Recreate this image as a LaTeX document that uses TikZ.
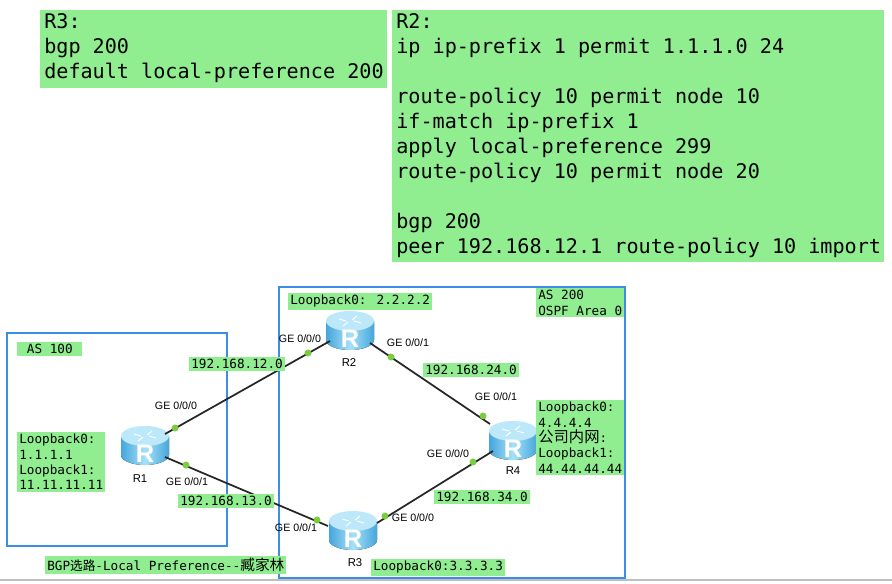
\documentclass[tikz,border=0pt]{standalone}
\usepackage{fontspec}
\setmainfont{Liberation Sans}
\newfontfamily\mono{DejaVu Sans Mono}
\newfontfamily\cjk{Noto Sans CJK SC}
\begin{document}
\begin{tikzpicture}[x=0.75pt,y=-0.75pt,
  gbox/.style={fill=lgreen, inner sep=1.5pt, anchor=north west, align=left, font=\mono\fontsize{9.5}{11.5}\selectfont},
  big/.style={inner sep=3pt, anchor=north west, align=left, font=\mono\fontsize{15.1}{18.8}\selectfont},
  ge/.style={font=\fontsize{8}{9}\selectfont, inner sep=0pt},
  rl/.style={font=\fontsize{8.5}{10}\selectfont, inner sep=0pt},
  dot/.style={circle, fill=dotg, inner sep=0pt, minimum size=5pt},
  link/.style={line width=1.3pt, black!85},
  asb/.style={draw=asblue, line width=0.8pt},
  rt/.style={minimum width=36pt, minimum height=30pt, inner sep=0pt},
  router/.pic={
    \fill[left color=rbot, right color=rbot, middle color=rtop] (-24,-9) -- (-24,10) arc[start angle=180,end angle=0,x radius=24,y radius=10] -- (24,-9) -- cycle;
    \fill[rtop!75!white] (0,-9) ellipse[x radius=24,y radius=10];
    \draw[white, line width=0.7pt] (-11,-11) -- (-4,-9) (11,-7) -- (4,-9) (-7,-4)--(-2,-8) (7,-14)--(2,-10);
    \node[text=white, font=\bfseries\fontsize{19}{19}\selectfont, inner sep=0] at (0,9) {R};
  }]
\definecolor{lgreen}{HTML}{90EE90}
\definecolor{dotg}{HTML}{7CCD3C}
\definecolor{asblue}{HTML}{3A8EE6}
\definecolor{rtop}{HTML}{A6E0F7}
\definecolor{rbot}{HTML}{45A6DC}
\useasboundingbox (0,0) rectangle (892,583);
\fill[white] (0,0) rectangle (892,583);
\draw[black!25, line width=1pt] (0,580) -- (892,580);

% top code boxes
\fill[lgreen] (40,10) rectangle (387,88);
\node[big] (c3) at (40,9) {R3:\\bgp 200\\default local-preference 200};
\fill[lgreen] (392,10) rectangle (884,262);
\node[big] (c2) at (392,9) {R2:\\ip ip-prefix 1 permit 1.1.1.0 24\\[18.8pt]route-policy 10 permit node 10\\if-match ip-prefix 1\\apply local-preference 299\\route-policy 10 permit node 20\\[18.8pt]bgp 200\\peer 192.168.12.1 route-policy 10 import};

% AS boxes
\draw[asb] (7,333) rectangle (227,546);
\draw[asb] (279,287) rectangle (625,578);

% routers
\node[rt] (r1) at (145,445) {}; \pic at (145,445) {router};
\node[rt] (r2) at (350,330) {}; \pic at (350,330) {router};
\node[rt] (r3) at (353,530) {}; \pic at (353,530) {router};
\node[rt] (r4) at (513,440) {}; \pic at (513,440) {router};
\node[rl] (l1) at (140,479) {R1};
\node[rl] (l2) at (349,363) {R2};
\node[rl] (l3) at (355,563) {R3};
\node[rl] (l4) at (513,471) {R4};

% interface dots
\node[dot] (d12) at (175,428) {};
\node[dot] (d21) at (308,353) {};
\node[dot] (d13) at (186,465) {};
\node[dot] (d31) at (317,520) {};
\node[dot] (d24) at (391,357) {};
\node[dot] (d42) at (483,416) {};
\node[dot] (d34) at (385,516) {};
\node[dot] (d43) at (473,462) {};
\coordinate (a1) at (165,434); \coordinate (a2) at (330,341);
\coordinate (b1) at (165,457); \coordinate (b3) at (328,526);
\coordinate (c2) at (370,343); \coordinate (c4) at (490,424);
\coordinate (e3) at (377,523); \coordinate (e4) at (493,451);
\draw[link] (a1) -- (a2);
\draw[link] (b1) -- (b3);
\draw[link] (c2) -- (c4);
\draw[link] (e3) -- (e4);
\foreach \n in {d12,d21,d13,d31,d24,d42,d34,d43} \node[dot] at (\n) {};

% GE labels
\node[ge] (g1) at (176,406) {GE 0/0/0};
\node[ge] (g2) at (187,482) {GE 0/0/1};
\node[ge] (g3) at (300,339) {GE 0/0/0};
\node[ge] (g4) at (408,343) {GE 0/0/1};
\node[ge] (g5) at (496,397) {GE 0/0/1};
\node[ge] (g6) at (448,454) {GE 0/0/0};
\node[ge] (g7) at (296,528) {GE 0/0/1};
\node[ge] (g8) at (413,518) {GE 0/0/0};

% green labels
\node[gbox] (as1) at (17,342) {\ AS 100\ };
\node[gbox] (lb1) at (17,432) {Loopback0:\\1.1.1.1\\Loopback1:\\11.11.11.11};
\node[gbox] (lb2) at (288,293) {Loopback0: 2.2.2.2};
\node[gbox] (as2) at (536,288) {AS 200\\OSPF Area 0};
\node[gbox] (lb4) at (536,400) {Loopback0:\\4.4.4.4\\{\cjk\fontsize{11.5}{11.5}\selectfont 公司内网}:\\Loopback1:\\44.44.44.44};
\node[gbox] (n12) at (189,357) {192.168.12.0};
\node[gbox] (n24) at (423,363) {192.168.24.0};
\node[gbox] (n13) at (178,494) {192.168.13.0};
\node[gbox] (n34) at (434,490) {192.168.34.0};
\node[gbox] (lb3) at (371,559) {Loopback0:3.3.3.3};
\node[gbox] (tt) at (45,556) {BGP{\cjk 选路}-Local Preference--{\cjk\fontsize{11}{11}\selectfont 臧家林}};
\end{tikzpicture}
\end{document}
